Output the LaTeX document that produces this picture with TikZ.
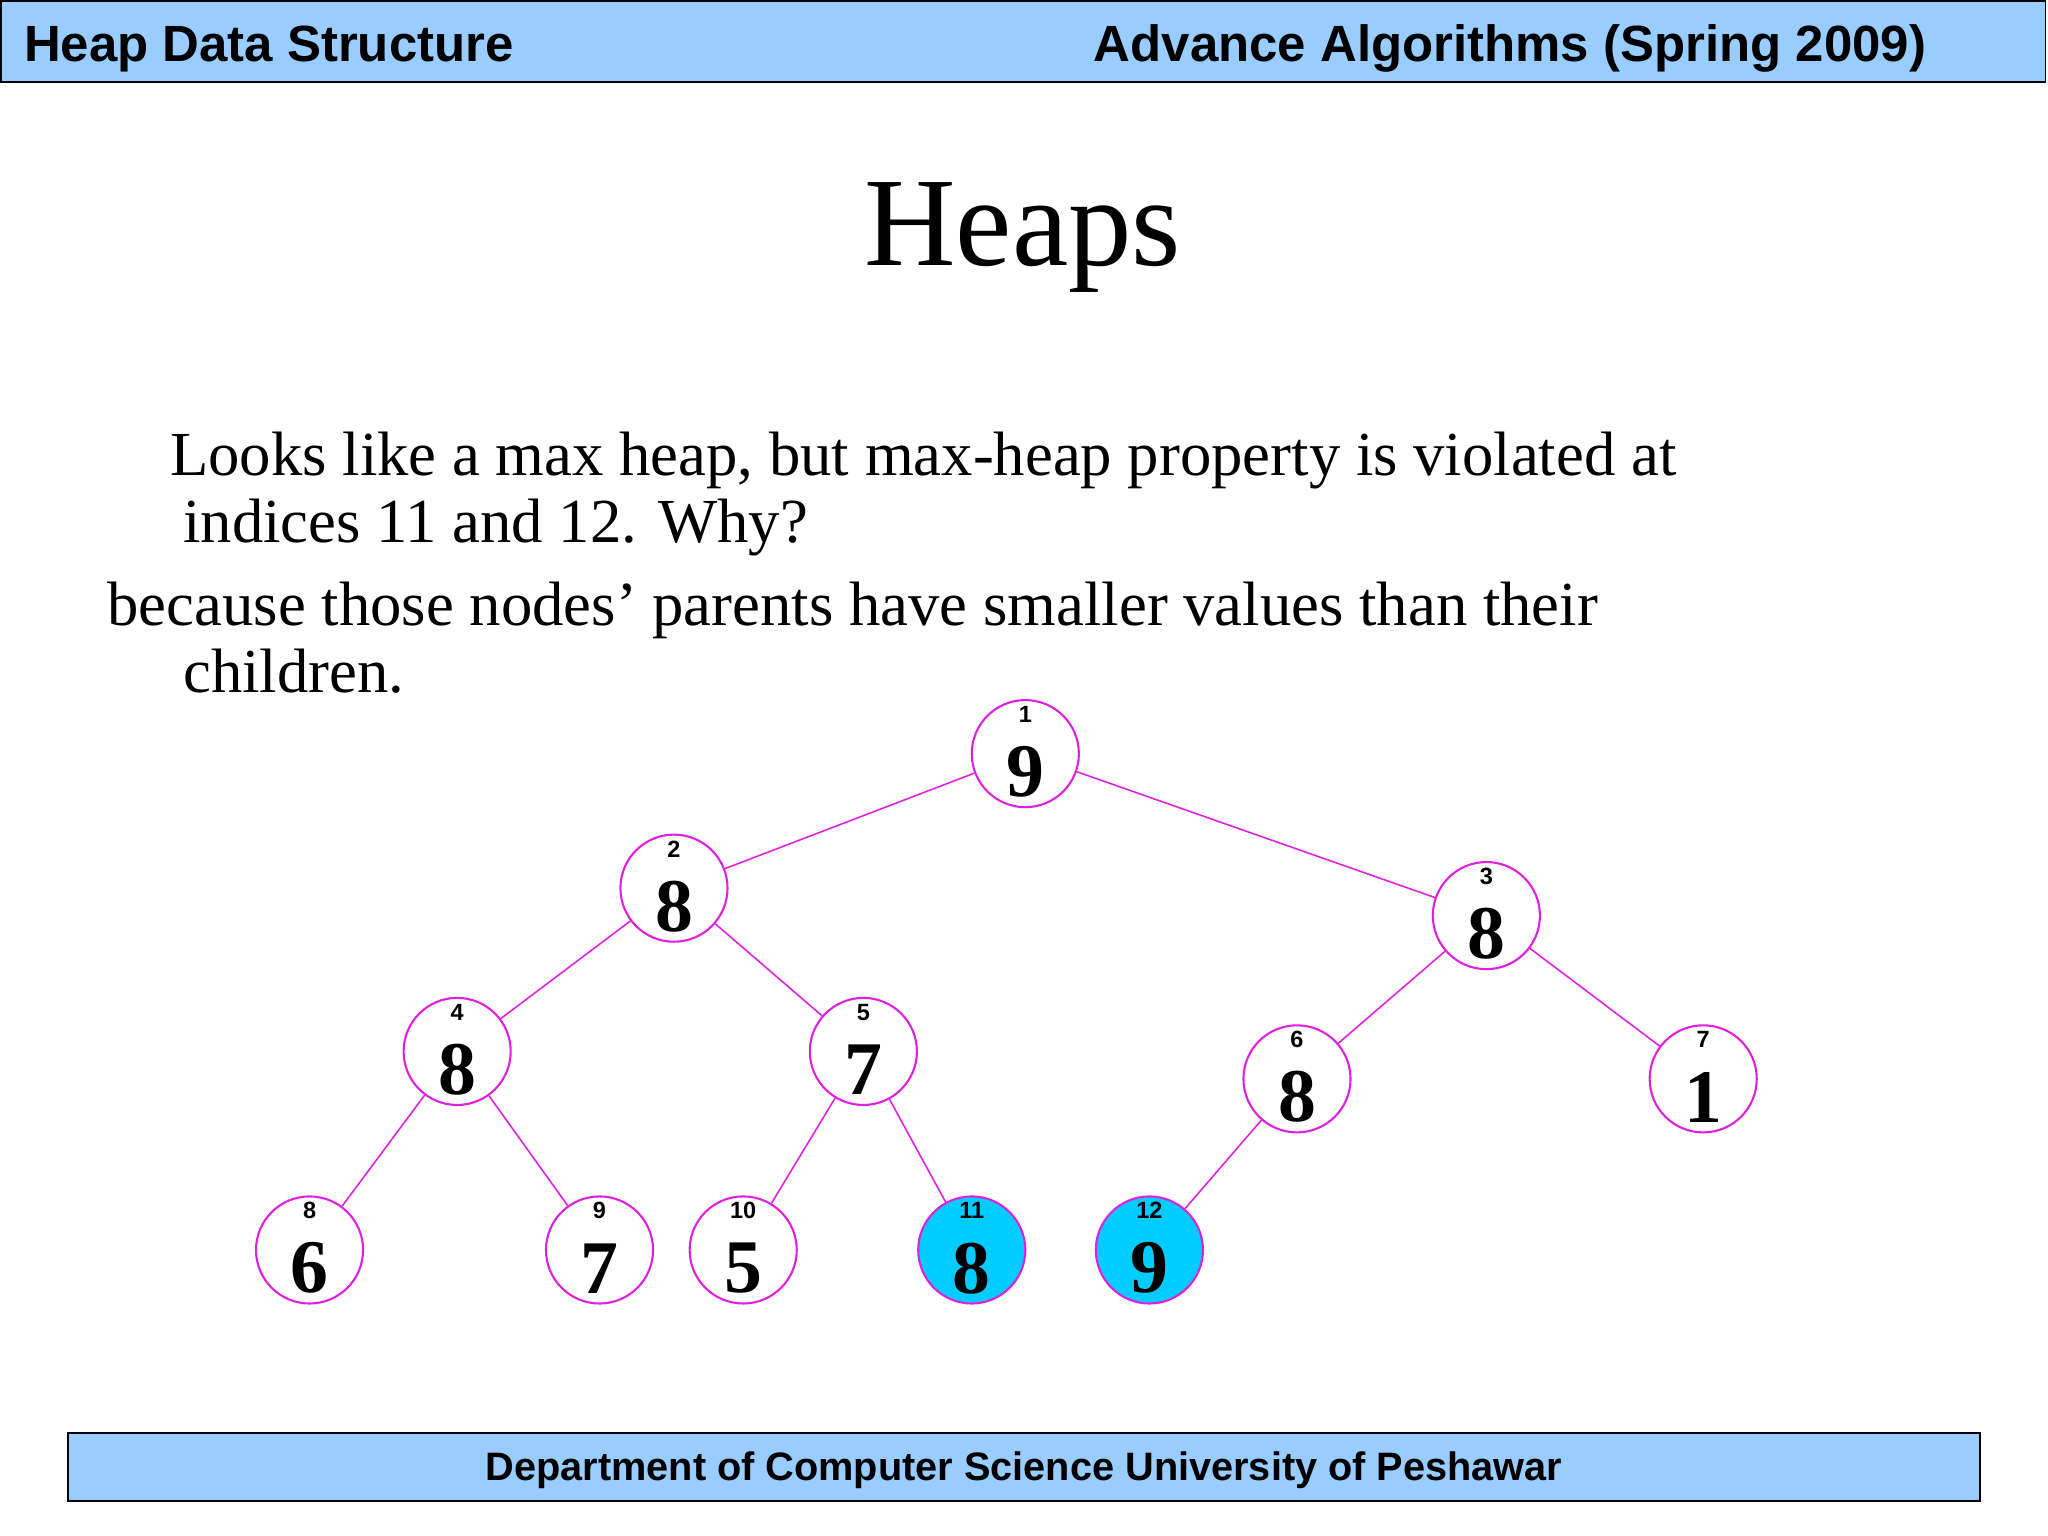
\documentclass[tikz,border=0pt]{standalone}
\usepackage{fontspec}
\setmainfont{Liberation Serif}
\setsansfont{Liberation Sans}
\definecolor{barblue}{HTML}{99CCFF}
\definecolor{hilite}{HTML}{00CCFF}
\definecolor{edgemag}{HTML}{E020E0}
\begin{document}
\begin{tikzpicture}[x=0.5pt,y=-0.5pt,
  hnode/.style={circle,draw=edgemag,line width=0.8pt,minimum size=41pt,inner sep=0pt,fill=white},
  hot/.style={fill=hilite},
  edge/.style={draw=edgemag,line width=0.6pt},
  bar/.style={draw=black,fill=barblue,line width=0.7pt}]
\useasboundingbox (0,0) rectangle (1568,1176);
\fill[white] (0,0) rectangle (1568,1176);
\draw[bar] (1,1) rectangle (1566,63);
\node[anchor=base west,inner sep=0pt,font=\sffamily\bfseries\fontsize{19.5}{22}\selectfont] (ht) at (18,47) {Heap Data Structure};
\node[anchor=base east,inner sep=0pt,font=\sffamily\bfseries\fontsize{19.5}{22}\selectfont] (hr) at (1475,47) {Advance Algorithms (Spring 2009)};
\draw[bar] (52,1097) rectangle (1516,1149);
\node[font=\sffamily\bfseries\fontsize{15.2}{18}\selectfont] (ft) at (784,1126) {Department of Computer Science University of Peshawar};
\node[anchor=base,font=\fontsize{48.5}{54}\selectfont] (title) at (783,203) {Heaps};
\begin{scope}[every node/.style={anchor=base west,font=\fontsize{24}{28}\selectfont,inner sep=0pt}]
\node (l1) at (130,364) {Looks like a max heap, but max-heap property is violated at};
\node (l2) at (140,415) {indices 11 and 12. Why?};
\node (l3) at (82,479) {because those nodes’ parents have smaller values than their};
\node (l4) at (140,530) {children.};
\end{scope}
\foreach \n/\x/\y/\v/\s in {1/785/577/9/, 2/516/680/8/, 3/1138/701/8/, 4/350/805/8/, 5/661/805/7/,
  6/993/826/8/, 7/1304/826/1/, 8/237/957/6/, 9/459/957/7/, 10/569/957/5/, 11/744/957/8/hot, 12/880/957/9/hot}{
  \node[hnode,\s] (n\n) at (\x,\y) {};
  \node[font=\sffamily\bfseries\fontsize{9}{10}\selectfont] (i\n) at (\x,\y-30) {\n};
  \node[font=\bfseries\fontsize{29}{30}\selectfont] (v\n) at (\x,\y+14) {\v};
}
\foreach \a/\b in {1/2,1/3,2/4,2/5,3/6,3/7,4/8,4/9,5/10,5/11,6/12}{
  \draw[edge] (n\a) -- (n\b);
}
\end{tikzpicture}
\end{document}
